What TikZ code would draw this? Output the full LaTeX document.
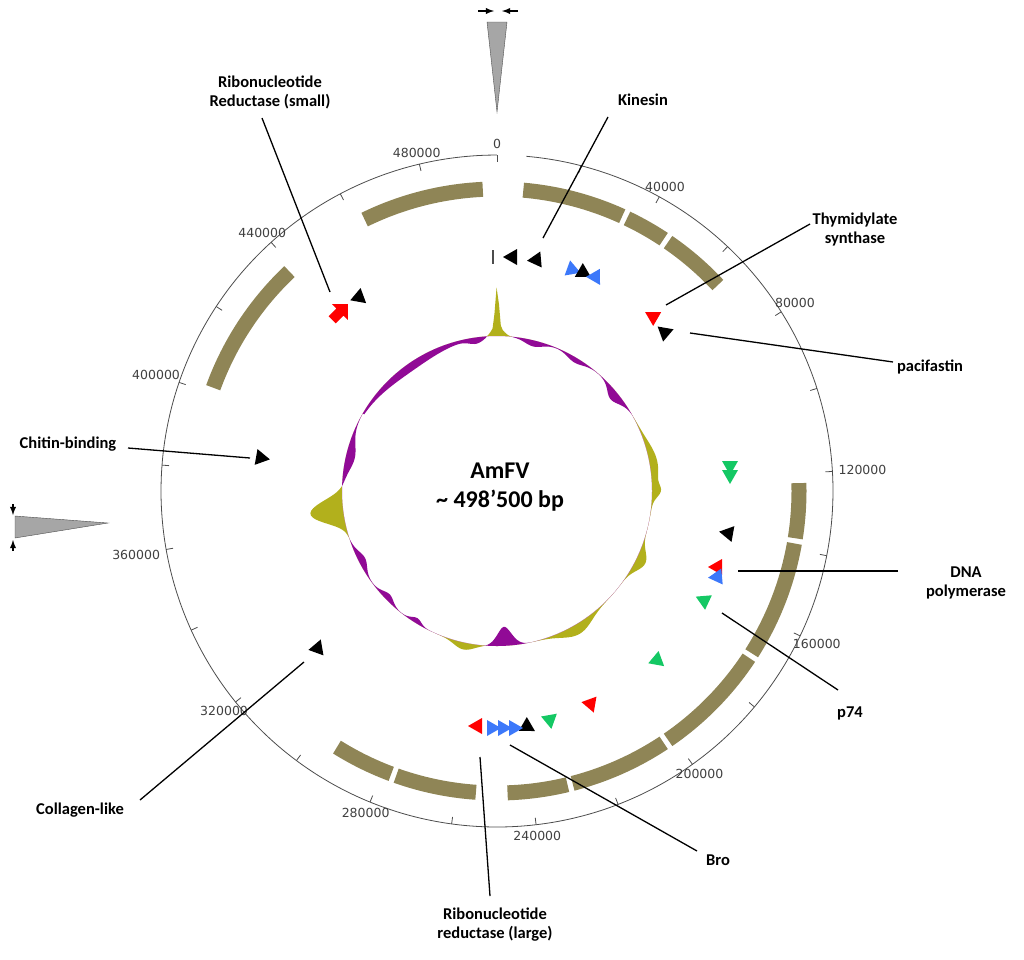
\documentclass[tikz,border=0pt]{standalone}
\usepackage{fontspec}
\setmainfont{Carlito}
\newfontfamily\tickfont{DejaVu Sans}
\begin{document}
\begin{tikzpicture}[x=1pt,y=-1pt,
  lab/.style={font=\bfseries\fontsize{16.5}{19}\selectfont,align=center,inner sep=1pt},
  tkl/.style={font=\tickfont\fontsize{12.5}{13}\selectfont,text=black!75,inner sep=1pt},
  lead/.style={line width=1.3pt},
  declare function={g(\t,\c,\a,\w)=\a*exp(-(min(abs(\t-\c)/\w,5))^2);
    sk(\t)=g(\t,0,40,0.8)+g(\t,0,10,3)+g(\t,-35,-8,20)+g(\t,-8,-5,4)
      +g(\t,14,-6,5)+g(\t,31,-5,5)+g(\t,51,-9,5)+g(\t,80,8,10)+g(\t,90,6,3)
      +g(\t,116,10,5)+g(\t,150,10,8)+g(\t,177,-19,4)+g(\t,192,7,5)
      +g(\t,212,-5,3)+g(\t,226,-6,4)+g(\t,243,-7,5)+g(\t,263,33,5)+g(\t,283,-9,8);}]
\useasboundingbox (0,0) rectangle (1024,959);
\def\cx{497}\def\cy{491}
\colorlet{contig}{rgb,255:red,143;green,133;blue,86}
\colorlet{skO}{rgb,255:red,178;green,176;blue,28}
\colorlet{skP}{rgb,255:red,145;green,10;blue,150}
\colorlet{gblue}{rgb,255:red,60;green,120;blue,250}
\colorlet{ggreen}{rgb,255:red,20;green,200;blue,100}
% outer circle
\draw[black!70,line width=0.8pt] plot[domain=5:360,samples=200,smooth] ({\cx+336*sin(\x)},{\cy-336*cos(\x)});
\foreach \i in {0,...,24}{
  \pgfmathsetmacro\th{\i*14.44333}
  \draw[black!70,line width=0.8pt] ({\cx+336*sin(\th)},{\cy-336*cos(\th)}) -- ({\cx+329*sin(\th)},{\cy-329*cos(\th)});}
\foreach \i in {0,...,12}{
  \pgfmathsetmacro\th{\i*28.88666}
  \node[tkl,anchor={270-\th}] (t\i) at ({\cx+341*sin(\th)},{\cy-341*cos(\th)}) {\ifnum\i=0 0\else\the\numexpr\i*40000\relax\fi};}
% contigs
\foreach \a/\b in {5/24.5,25.5/33.5,34.5/47,88.5/99,100/122.5,123.5/145.5,146.5/165.5,166.5/178,184/199.5,200.5/212,290/316.6,334/357.3}
  \draw[contig,line width=15pt] plot[domain=\a:\b,samples=40] ({\cx+302*sin(\x)},{\cy-302*cos(\x)});
% GC skew
\fill[skO] plot[domain=-60:300,samples=500] ({\cx+(155+max(sk(\x),0))*sin(\x)},{\cy-(155+max(sk(\x),0))*cos(\x)}) -- cycle;
\fill[white] (\cx,\cy) circle (155);
\fill[skP,even odd rule] (\cx,\cy) circle (155) plot[domain=-60:300,samples=500] ({\cx+(155+min(sk(\x),0))*sin(\x)},{\cy-(155+min(sk(\x),0))*cos(\x)}) -- cycle;
\node[font=\bfseries\fontsize{24}{29}\selectfont,align=center] (title) at (500,487) {AmFV\\\textasciitilde{} 498’500 bp};
% genes (angle: visual, clockwise from east)
\newcommand\gtri[4]{\fill[#4,rotate around={-#3:(#1,#2)}] (#1+8,#2) -- (#1-6,#2-8) -- (#1-6,#2+8) -- cycle;}
\fill[black!70] (492,250) rectangle (494,264);
\gtri{511}{257}{180}{black} \gtri{535}{260}{175}{black}
\gtri{573}{270}{20}{gblue} \gtri{584}{273}{30}{black} \gtri{596}{278}{60}{gblue}
\gtri{652}{316}{210}{red} \gtri{666}{332}{-20}{black}
\fill[red,rotate around={45:(340,312)}] (351,312) -- (340,301) -- (340,307) -- (329,307) -- (329,317) -- (340,317) -- (340,323) -- cycle;
\gtri{360}{298}{40}{black}
\gtri{262}{458}{10}{black}
\gtri{730}{467}{90}{ggreen} \gtri{730}{476}{90}{ggreen}
\gtri{727}{533}{190}{black}
\gtri{716}{567}{180}{red} \gtri{716}{577}{175}{gblue}
\gtri{703}{600}{205}{ggreen}
\gtri{658}{661}{40}{ggreen}
\gtri{591}{705}{70}{red}
\gtri{550}{721}{80}{ggreen}
\gtri{528}{727}{30}{black}
\gtri{476}{726}{180}{red}
\gtri{493}{728}{0}{gblue} \gtri{504}{728}{0}{gblue} \gtri{515}{728}{0}{gblue}
\gtri{318}{647}{-70}{black}
% labels and leaders
\node[lab] (rrs) at (270,92) {Ribonucleotide\\Reductase (small)};
\node[lab] (kin) at (643,100) {Kinesin};
\node[lab] (ts) at (855,230) {Thymidylate\\synthase};
\node[lab] (pac) at (930,367) {pacifastin};
\node[lab] (chi) at (68,444) {Chitin-binding};
\node[lab] (dna) at (966,583) {DNA\\polymerase};
\node[lab] (p74) at (850,713) {p74};
\node[lab] (bro) at (718,860) {Bro};
\node[lab] (rrl) at (495,925) {Ribonucleotide\\reductase (large)};
\node[lab] (col) at (80,810) {Collagen-like};
\coordinate (erss) at (330,292); \coordinate (ekin) at (543,238);
\coordinate (ets) at (666,305); \coordinate (epac) at (690,333);
\coordinate (echi) at (250,458); \coordinate (edna) at (738,571);
\coordinate (ep74) at (722,613); \coordinate (ebro) at (510,745);
\coordinate (errl) at (480,757); \coordinate (ecol) at (304,662);
\draw[lead] (262,118) -- (erss);
\draw[lead] (608,117) -- (ekin);
\draw[lead] (810,224) -- (ets);
\draw[lead] (893,362) -- (epac);
\draw[lead] (128,448) -- (echi);
\draw[lead] (898,571) -- (edna);
\draw[lead] (838,690) -- (ep74);
\draw[lead] (697,851) -- (ebro);
\draw[lead] (490,896) -- (errl);
\draw[lead] (140,800) -- (ecol);
% wedges
\fill[black!35,draw=black!70] (487,22) -- (507,22) -- (497,112) -- cycle;
\fill[black!35,draw=black!70] (15,516) -- (15,538) -- (108,523) -- cycle;
\draw[-latex,line width=1.8pt] (478,11) -- (494,11);
\draw[-latex,line width=1.8pt] (518,11) -- (502,11);
\draw[-latex,line width=1.8pt] (13,504) -- (13,515);
\draw[-latex,line width=1.8pt] (13,551) -- (13,540);
\end{tikzpicture}
\end{document}
